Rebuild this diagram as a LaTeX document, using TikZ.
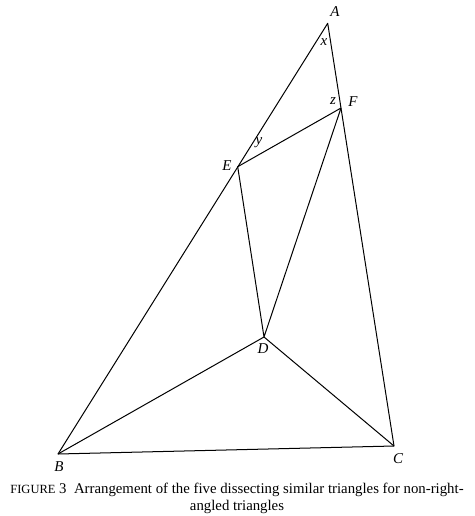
\documentclass[tikz,border=0pt]{standalone}
\usepackage{fontspec}
\setmainfont{Liberation Serif}
\begin{document}
\begin{tikzpicture}[x=1pt,y=-1pt,
  edge/.style={line width=1pt, line join=round},
  lab/.style={font=\fontsize{15}{17}\selectfont\itshape, inner sep=0pt}]
\useasboundingbox (0,0) rectangle (474,516);
\coordinate (A) at (327.7,23.3);
\coordinate (B) at (58,454);
\coordinate (C) at (394,446);
\coordinate (D) at (264,337);
\coordinate (E) at (237.7,166.7);
\coordinate (F) at (341,108);
\draw[edge] (A) -- (B) -- (C) -- cycle;
\draw[edge] (E) -- (F) -- (D) -- cycle;
\draw[edge] (B) -- (D) -- (C);
\node[lab] (lA) at (335,12) {A};
\node[lab] (lB) at (59,467) {B};
\node[lab] (lC) at (398,459) {C};
\node[lab] (lD) at (263,349) {D};
\node[lab] (lE) at (227,166) {E};
\node[lab] (lF) at (353,102) {F};
\node[lab] (lx) at (324,42) {x};
\node[lab] (ly) at (259,143) {y};
\node[lab] (lz) at (333,101) {z};
\node[font=\fontsize{14.8}{17}\selectfont, align=center, inner sep=0pt] (cap) at (237,498)
  {{\fontsize{12.5}{14}\selectfont FIGURE} 3\enspace Arrangement of the five dissecting similar triangles for non-right-\\angled triangles};
\end{tikzpicture}
\end{document}
